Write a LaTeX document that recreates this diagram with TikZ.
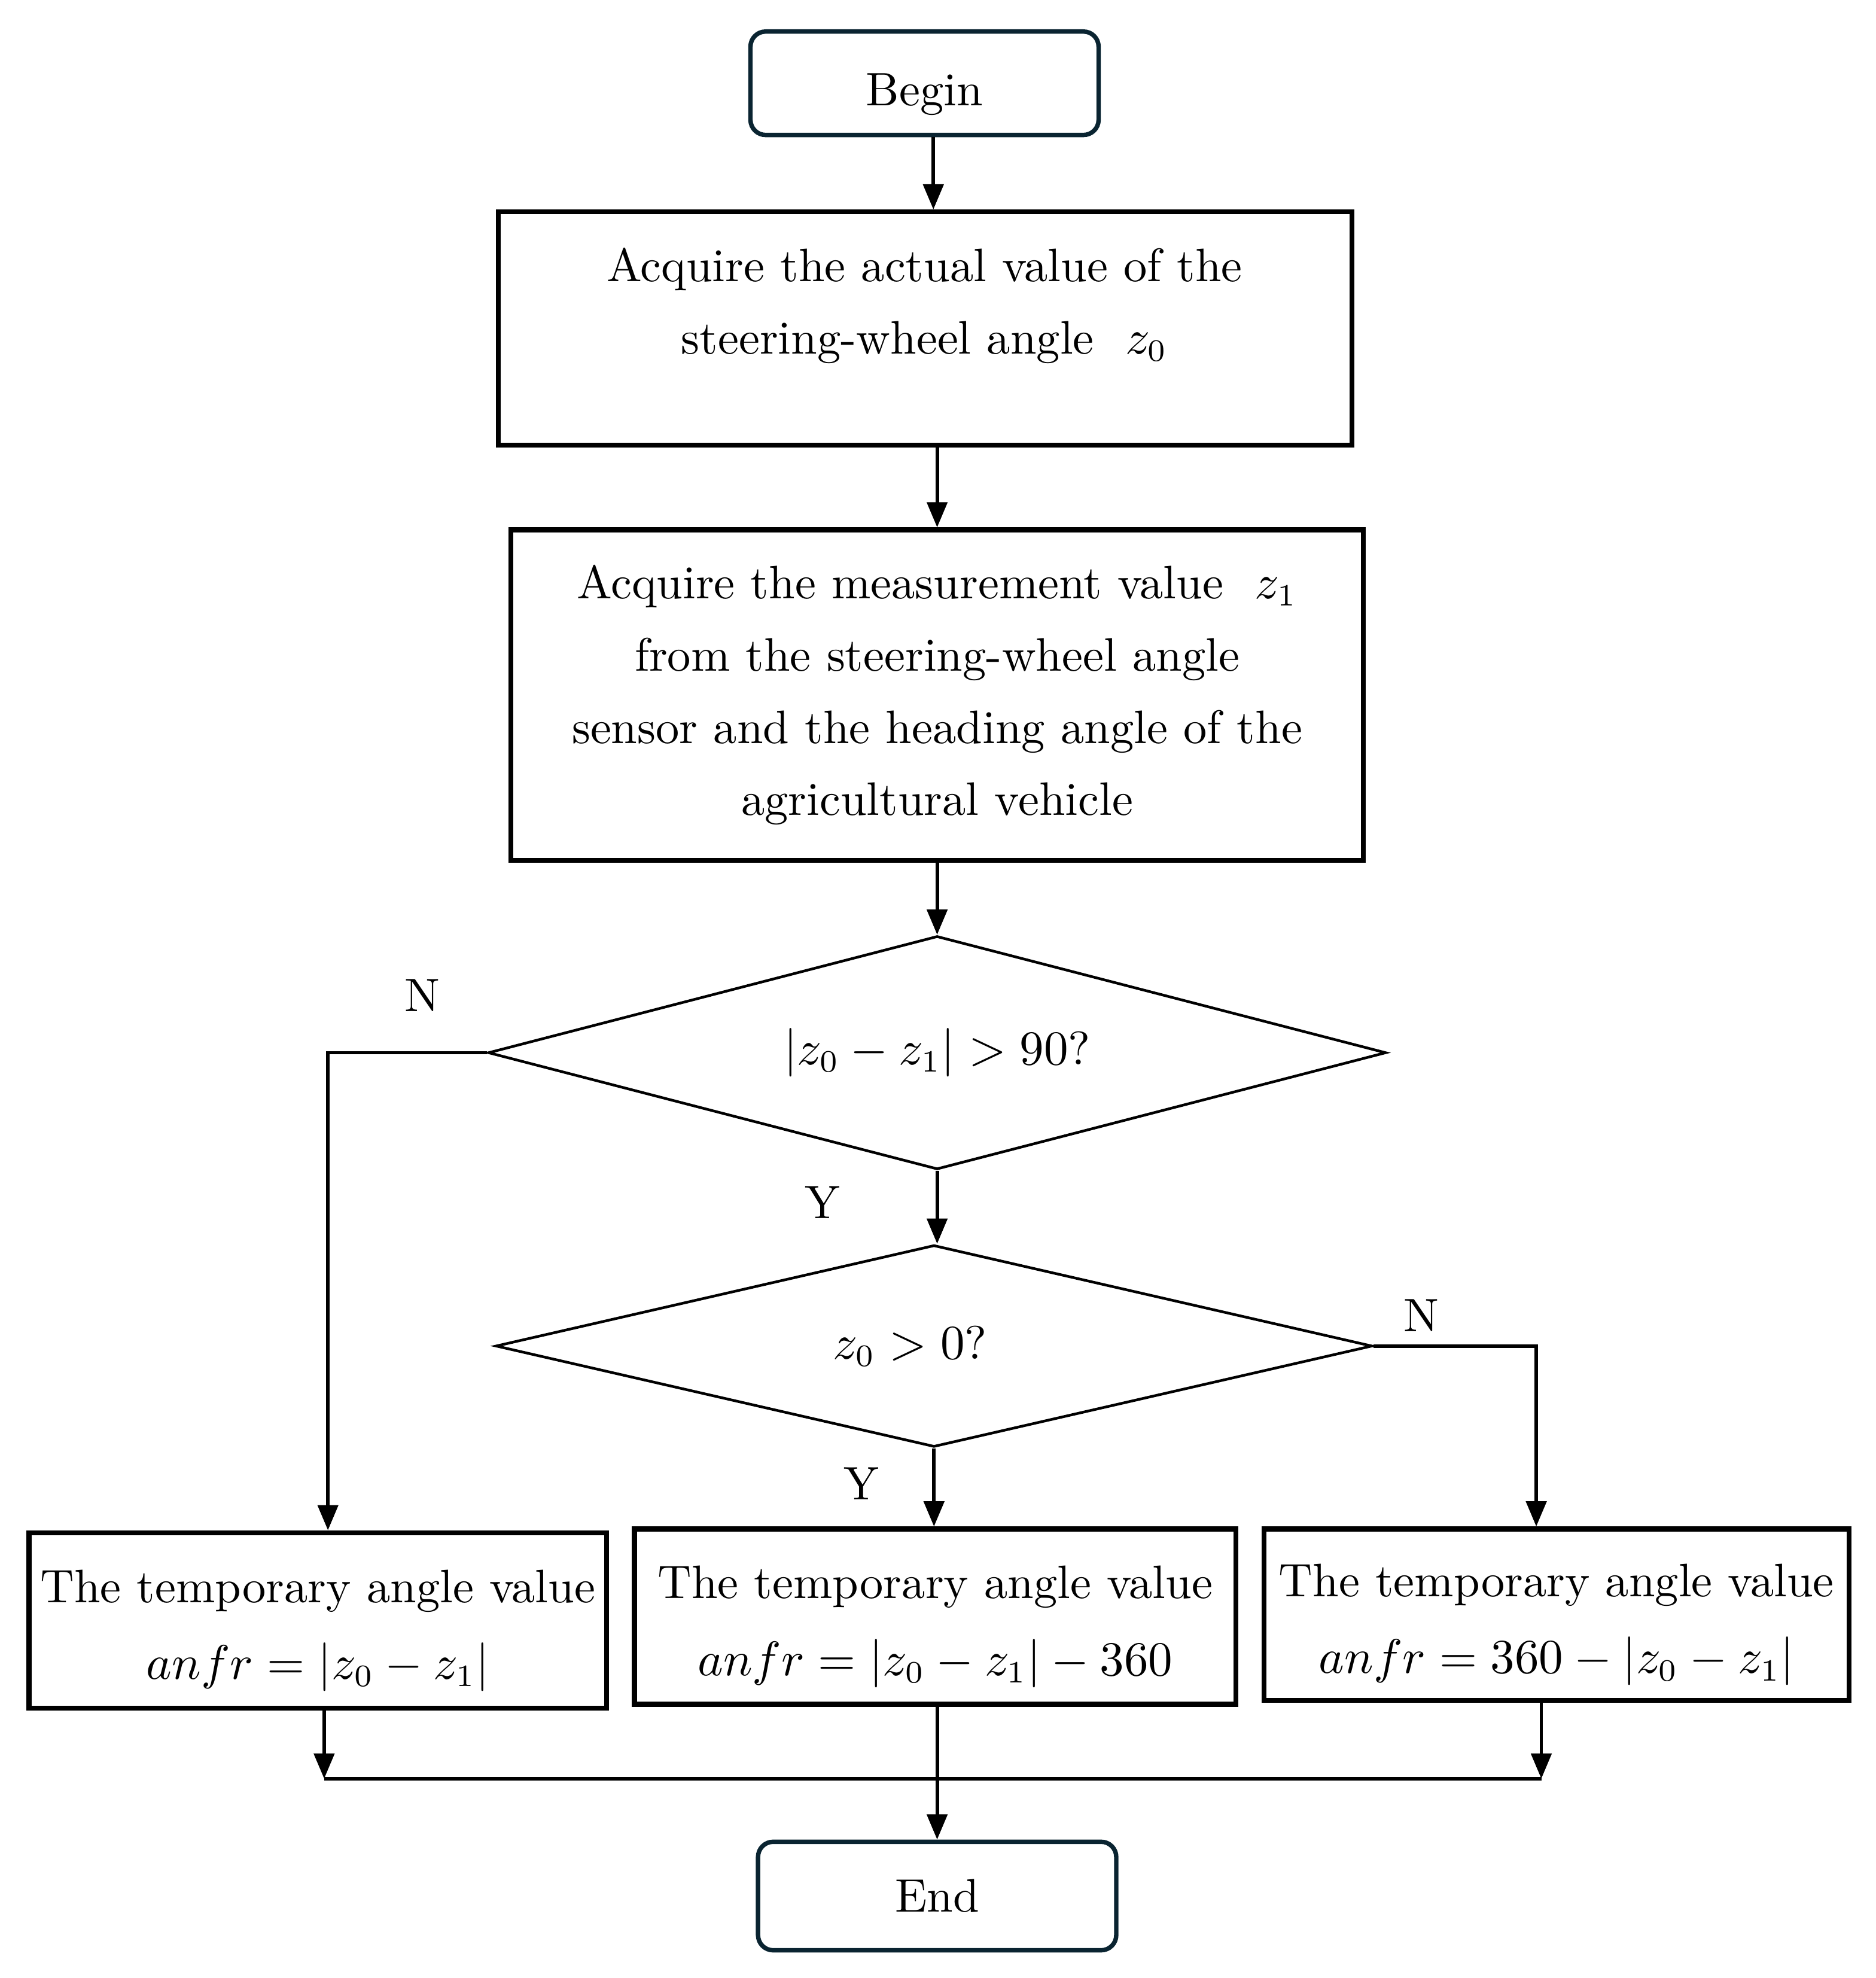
\documentclass[tikz,border=0pt]{standalone}
\usepackage{amsmath,amssymb}
\usetikzlibrary{arrows.meta,shapes.geometric}

\definecolor{termline}{HTML}{0A2431}
\newcommand{\chartfont}{\fontsize{10.6}{16.3}\selectfont}

\tikzset{
  term/.style={draw=termline,line width=1pt,rounded corners=0.12cm,font=\chartfont},
  proc/.style={draw,line width=1.1pt,align=center,inner sep=0pt,font=\chartfont},
  decide/.style={draw,diamond,line width=0.6pt,inner sep=0pt,aspect=4,font=\chartfont},
  inside/.style={align=center,font=\chartfont},
  arr/.style={-{Triangle[length=0.2cm,width=0.16cm]},line width=0.8pt},
  link/.style={line width=0.8pt},
  yn/.style={font=\chartfont}
}

\begin{document}
\begin{tikzpicture}
  \useasboundingbox (0,0) rectangle (14.87,-15.68);
  \node[term,minimum width=2.76cm,minimum height=0.82cm] (begin) at (7.33,-0.66) {};
  \node[inside] (begintext) at ([yshift=-0.09cm]begin.center) {Begin};
  \node[proc,minimum width=6.77cm,minimum height=1.85cm] (acq) at (7.335,-2.605) {};
  \node[inside] (acqtext) at (7.33,-2.425) {Acquire the actual value of the\\steering-wheel angle~ $z_0$};
  \node[proc,minimum width=6.76cm,minimum height=2.62cm] (meas) at (7.43,-5.51) {Acquire the measurement value~ $z_1$\\ from the steering-wheel angle\\sensor and the heading angle of the\\agricultural vehicle};
  \node[decide,minimum width=7.12cm,minimum height=1.85cm] (dec1) at (7.43,-8.345) {$|z_0-z_1|>90$?};
  \node[decide,minimum width=6.95cm,minimum height=1.60cm] (dec2) at (7.405,-10.67) {};
  \node[inside] (dec2text) at ([xshift=-0.19cm]dec2.center) {$z_0>0$?};
  \node[proc,minimum width=4.58cm,minimum height=1.39cm] (tmpl) at (2.52,-12.845) {};
  \node[inside] (tmpltext) at ([yshift=-0.08cm]tmpl.center) {The temporary angle value\\[1pt]$anfr=|z_0-z_1|$};
  \node[proc,minimum width=4.77cm,minimum height=1.39cm] (tmpm) at (7.415,-12.815) {};
  \node[inside] (tmpmtext) at ([yshift=-0.08cm]tmpm.center) {The temporary angle value\\[1pt]$anfr=|z_0-z_1|-360$};
  \node[proc,minimum width=4.64cm,minimum height=1.36cm] (tmpr) at (12.34,-12.80) {};
  \node[inside] (tmprtext) at ([yshift=-0.08cm]tmpr.center) {The temporary angle value\\[1pt]$anfr=360-|z_0-z_1|$};
  \node[term,minimum width=2.84cm,minimum height=0.86cm] (end) at (7.43,-15.03) {End};

  \node[yn] (n1) at (3.35,-7.89) {N};
  \node[yn] (y1) at (6.52,-9.53) {Y};
  \node[yn] (n2) at (11.27,-10.43) {N};
  \node[yn] (y2) at (6.83,-11.76) {Y};

  \coordinate (joinl) at (2.57,-14.10);
  \coordinate (joinr) at (12.22,-14.10);

  \draw[arr] ([xshift=0.07cm]begin.south) -- ([xshift=0.07cm]begin.south |- acq.north);
  \draw[arr] (acq.south -| meas.north) -- (meas.north);
  \draw[arr] (meas) -- (dec1);
  \draw[arr] (dec1.west) -| ([xshift=0.08cm]tmpl.north);
  \draw[arr] (dec1.south) -- (dec1.south |- dec2.north);
  \draw[arr] (dec2.south) -- (dec2.south |- tmpm.north);
  \draw[arr] (dec2.east) -| ([xshift=-0.16cm]tmpr.north);
  \draw[arr] (tmpl.south -| joinl) -- (joinl);
  \draw[arr] (tmpr.south -| joinr) -- (joinr);
  \draw[link] (joinl) -- (joinr);
  \draw[arr] (tmpm.south -| end.north) -- (end.north);
\end{tikzpicture}
\end{document}
